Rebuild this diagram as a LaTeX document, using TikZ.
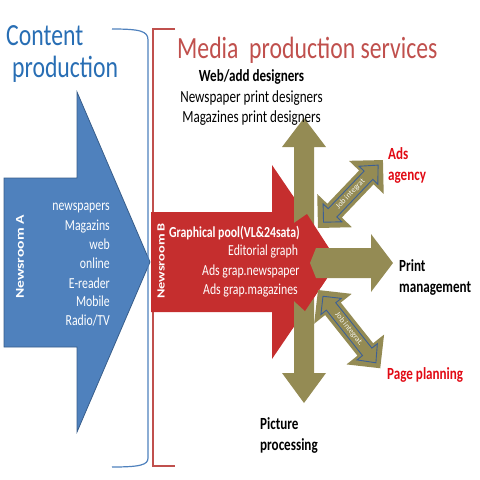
\documentclass[tikz,border=0pt]{standalone}
\usepackage{fontspec}
\setmainfont{Carlito}[FakeStretch=0.77]
\newfontfamily\rotfont{Carlito}[FakeStretch=1.3]
\newfontfamily\jobfont{Carlito}
\definecolor{bluearr}{RGB}{79,129,189}
\definecolor{bluedark}{RGB}{56,93,138}
\definecolor{redarr}{RGB}{197,46,46}
\definecolor{olivec}{RGB}{148,139,84}
\definecolor{titleblue}{RGB}{40,110,180}
\definecolor{titlered}{RGB}{192,80,77}
\definecolor{labred}{RGB}{225,10,20}
\definecolor{jobblue}{RGB}{60,95,150}
\tikzset{
  txt/.style={inner sep=0pt, anchor=base west},
  titlef/.style={txt, font=\fontsize{30.8}{34}\selectfont},
  listw/.style={inner sep=0pt, anchor=base east, text=white, font=\fontsize{15.3}{19}\selectfont},
  redw/.style={txt, text=white, font=\fontsize{15.3}{19}\selectfont},
  topl/.style={inner sep=0pt, anchor=base, font=\fontsize{17}{21}\selectfont},
  lab/.style={txt, font=\bfseries\fontsize{17}{21}\selectfont},
  rotl/.style={inner sep=0pt, rotate=90, text=white, font=\rotfont\bfseries\fontsize{12}{14}\selectfont},
  jobline/.style={draw=jobblue, line width=0.9pt, line join=miter},
  jobtext/.style={inner sep=0pt, text=white!92!olivec, font=\jobfont\fontsize{8}{9}\selectfont},
}
\begin{document}
\begin{tikzpicture}[x=1pt, y=-1pt]
\useasboundingbox (0,0) rectangle (480,480);
% blue arrow
\fill[bluearr, draw=bluedark, line width=0.8pt] (4,178) -- (77,178) -- (77,92) -- (150,262) -- (77,432) -- (77,347) -- (4,347) -- cycle;
% brackets
\draw[bluearr, line width=1.2pt] (112,29) .. controls (140,29) and (148,31) .. (148,40) -- (148,458) .. controls (148,465) and (140,467) .. (112,467);
\draw[titlered, line width=1.8pt] (175,29) -- (153,29) -- (153,466) -- (175,466);
% red arrow
\fill[redarr] (151,212) -- (272,212) -- (272,165) -- (338,262) -- (272,359) -- (272,312) -- (151,312) -- cycle;
% olive vertical double arrow
\fill[olivec] (304,118) -- (326,147) -- (314,147) -- (314,373) -- (326,373) -- (304,403) -- (282,373) -- (294,373) -- (294,147) -- (282,147) -- cycle;
% red overlay on the vertical shaft
\fill[redarr] (294,223) -- (307,214) -- (338,262) -- (305,311) -- (294,301) -- cycle;
% olive horizontal arrow
\fill[olivec] (310,263) -- (316,248) -- (371,248) -- (371,234) -- (393,263) -- (371,292) -- (371,278) -- (316,278) -- cycle;
% upper diagonal
\begin{scope}[shift={(318,228)}, rotate=46.3]
  \fill[olivec] (0,0) -- (24,-24) -- (24,-10) -- (70,-10) -- (70,-24) -- (94,0) -- (70,24) -- (70,10) -- (24,10) -- (24,24) -- cycle;
  \draw[jobline] (8,0) -- (21,-13) -- (21,-6) -- (73,-6) -- (73,-13) -- (87,0) -- (73,13) -- (73,6) -- (21,6) -- (21,13) -- cycle;
  \node[jobtext, rotate=46.3] (job1) at (47,0) {Job integrat};
\end{scope}
% lower diagonal
\begin{scope}[shift={(318,290)}, rotate=-51.5]
  \fill[olivec] (0,0) -- (24,-24) -- (24,-10) -- (76,-10) -- (76,-24) -- (100,0) -- (76,24) -- (76,10) -- (24,10) -- (24,24) -- cycle;
  \draw[jobline] (8,0) -- (21,-13) -- (21,-6) -- (79,-6) -- (79,-13) -- (93,0) -- (79,13) -- (79,6) -- (21,6) -- (21,13) -- cycle;
  \node[jobtext, rotate=-51.5] (job2) at (50,0) {Job integrat.};
\end{scope}
% titles
\node[titlef, text=titleblue] (t1) at (6,45) {Content};
\node[titlef, text=titleblue] (t2) at (12,77) {production};
\node[titlef, text=titlered] (t3) at (177,58) {Media\ \ production services};
% top designers
\node[topl, font=\bfseries\fontsize{17}{21}\selectfont] (d1) at (251.5,81) {Web/add designers};
\node[topl] (d2) at (251.5,102) {Newspaper print designers};
\node[topl] (d3) at (251.5,122) {Magazines print designers};
% blue list
\node[rotl] (nA) at (20,257) {Newsroom A};
\node[listw] (l1) at (110,210) {newspapers};
\node[listw] (l2) at (110,230) {Magazins};
\node[listw] (l3) at (110,249) {web};
\node[listw] (l4) at (110,268) {online};
\node[listw] (l5) at (110,288) {E-reader};
\node[listw] (l6) at (110,306) {Mobile};
\node[listw] (l7) at (110,325) {Radio/TV};
% red list
\node[rotl, font=\rotfont\bfseries\fontsize{11}{13}\selectfont] (nB) at (161,261) {Newsroom B};
\node[redw, font=\bfseries\fontsize{15.3}{19}\selectfont] (r1) at (169,237) {Graphical pool(VL\&24sata)};
\node[redw] (r2) at (228,255) {Editorial graph};
\node[redw] (r3) at (202,275) {Ads grap.newspaper};
\node[redw] (r4) at (203,294) {Ads grap.magazines};
% right labels
\node[lab, text=labred] (a1) at (388,159) {Ads};
\node[lab, text=labred] (a2) at (388,180) {agency};
\node[lab] (p1) at (399,271) {Print};
\node[lab] (p2) at (399,292) {management};
\node[lab, text=labred] (pp) at (387,379) {Page planning};
\node[lab] (pc1) at (260,429) {Picture};
\node[lab] (pc2) at (260,450) {processing};
\end{tikzpicture}
\end{document}
